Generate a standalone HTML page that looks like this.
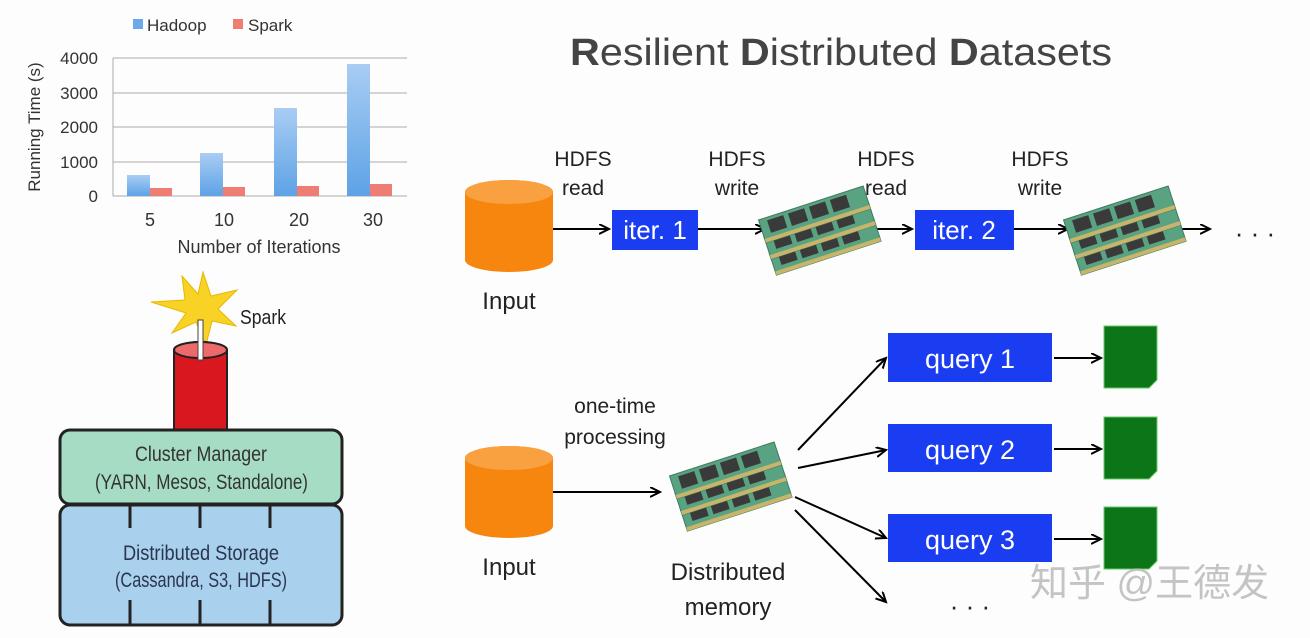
<!DOCTYPE html>
<html><head><meta charset="utf-8"><style>
html,body{margin:0;padding:0;background:#fdfdfd;}
svg{display:block;}
</style></head><body>
<svg width="1310" height="638" viewBox="0 0 1310 638" xmlns="http://www.w3.org/2000/svg" font-family="Liberation Sans, sans-serif">
<defs>
<marker id="ar" markerWidth="12" markerHeight="12" refX="10" refY="5" orient="auto" markerUnits="userSpaceOnUse"><path d="M0,0 L10,5 L0,10" fill="none" stroke="#000" stroke-width="2"/></marker>
<linearGradient id="hb" x1="0" y1="0" x2="0" y2="1"><stop offset="0" stop-color="#a9cdf3"/><stop offset="1" stop-color="#5ea2e6"/></linearGradient>
<g id="stick">
<rect x="-55" y="-12" width="110" height="24" fill="#5aa382" stroke="#3d7a5e"/>
<rect x="-47" y="-9" width="17" height="13" fill="#3a3a3a"/>
<rect x="-25" y="-9" width="17" height="13" fill="#3a3a3a"/>
<rect x="-3" y="-9" width="17" height="13" fill="#3a3a3a"/>
<rect x="19" y="-9" width="17" height="13" fill="#3a3a3a"/>
<rect x="-55" y="8" width="110" height="4" fill="#c9b56a"/>
</g>
<g id="ram">
<g transform="rotate(-18)"><use href="#stick" y="26"/><use href="#stick" y="9"/><use href="#stick" y="-8"/></g>
</g>
<g id="cyl">
<path d="M0,10 A44,12 0 0 1 88,10 L88,78 A44,12 0 0 1 0,78 Z" fill="#f7860f"/>
<ellipse cx="44" cy="10" rx="44" ry="12" fill="#f9a041"/>
</g>
<g id="doc"><path d="M0,0 H53 V54 L45,62 H0 Z" fill="#0c7518" stroke="#6c6" stroke-width="1"/></g>
</defs>

<!-- chart -->
<rect x="133" y="19" width="10" height="10" fill="#6aaae8"/>
<text x="147" y="31" font-size="17" fill="#333">Hadoop</text>
<rect x="233" y="19" width="10" height="10" fill="#ee7d73"/>
<text x="248" y="31" font-size="17" fill="#333">Spark</text>
<g stroke="#aaa" stroke-width="1">
<line x1="113" y1="58" x2="407" y2="58"/><line x1="113" y1="93" x2="407" y2="93"/>
<line x1="113" y1="127" x2="407" y2="127"/><line x1="113" y1="162" x2="407" y2="162"/>
<line x1="113" y1="196" x2="407" y2="196"/><line x1="113" y1="58" x2="113" y2="196"/>
</g>
<g font-size="17" fill="#333" text-anchor="end">
<text x="98" y="64">4000</text><text x="98" y="99">3000</text><text x="98" y="133">2000</text><text x="98" y="168">1000</text><text x="98" y="202">0</text>
</g>
<text transform="translate(40,127) rotate(-90)" font-size="17" fill="#333" text-anchor="middle">Running Time (s)</text>
<rect x="127" y="175" width="23" height="21" fill="url(#hb)"/><rect x="150" y="188" width="22" height="8" fill="#ee7d73"/>
<rect x="200" y="153" width="23" height="43" fill="url(#hb)"/><rect x="223" y="187" width="22" height="9" fill="#ee7d73"/>
<rect x="274" y="108" width="23" height="88" fill="url(#hb)"/><rect x="297" y="186" width="22" height="10" fill="#ee7d73"/>
<rect x="347" y="64" width="23" height="132" fill="url(#hb)"/><rect x="370" y="184" width="22" height="12" fill="#ee7d73"/>
<g font-size="18" fill="#333" text-anchor="middle">
<text x="150" y="226">5</text><text x="224" y="226">10</text><text x="299" y="226">20</text><text x="373" y="226">30</text>
<text x="259" y="253">Number of Iterations</text>
</g>

<!-- spark stack -->
<polygon points="203,272 211,296 237,290 218,309 236,326 212,321 206,345 196,322 172,333 186,313 151,302 185,300 182,276 198,294" fill="#f8d224" stroke="#e8b800"/>
<text x="240" y="324" font-size="20" fill="#222" textLength="46" lengthAdjust="spacingAndGlyphs">Spark</text>
<path d="M174,350 A26.5,8 0 0 1 227,350 L227,432 L174,432 Z" fill="#d8171e" stroke="#222" stroke-width="2"/>
<ellipse cx="200.5" cy="350" rx="26.5" ry="8" fill="#ee6a6a" stroke="#222" stroke-width="2"/>
<rect x="198" y="320" width="5" height="40" fill="#fff" stroke="#444"/>
<rect x="60" y="430" width="282" height="74" rx="10" fill="#a6dcc3" stroke="#222" stroke-width="3"/>
<text x="135" y="461" font-size="21" fill="#333" textLength="132" lengthAdjust="spacingAndGlyphs">Cluster Manager</text>
<text x="95" y="489" font-size="21" fill="#333" textLength="213" lengthAdjust="spacingAndGlyphs">(YARN, Mesos, Standalone)</text>
<rect x="60" y="505" width="282" height="120" rx="10" fill="#a9d0ec" stroke="#222" stroke-width="3"/>
<g stroke="#222" stroke-width="3">
<line x1="130" y1="506" x2="130" y2="528"/><line x1="200" y1="506" x2="200" y2="528"/><line x1="270" y1="506" x2="270" y2="528"/>
<line x1="130" y1="600" x2="130" y2="624"/><line x1="200" y1="600" x2="200" y2="624"/><line x1="270" y1="600" x2="270" y2="624"/>
</g>
<text x="123" y="560" font-size="21" fill="#2a3550" textLength="156" lengthAdjust="spacingAndGlyphs">Distributed Storage</text>
<text x="115" y="587" font-size="21" fill="#2a3550" textLength="172" lengthAdjust="spacingAndGlyphs">(Cassandra, S3, HDFS)</text>

<!-- title -->
<text x="570" y="65" font-size="38" fill="#444" textLength="542" lengthAdjust="spacingAndGlyphs"><tspan font-weight="bold">R</tspan>esilient <tspan font-weight="bold">D</tspan>istributed <tspan font-weight="bold">D</tspan>atasets</text>

<!-- top row -->
<use href="#cyl" x="465" y="182"/>
<text x="509" y="309" font-size="24" fill="#222" text-anchor="middle">Input</text>
<g font-size="21" fill="#222" text-anchor="middle">
<text x="583" y="166">HDFS</text><text x="583" y="195">read</text>
<text x="737" y="166">HDFS</text><text x="737" y="195">write</text>
<text x="886" y="166">HDFS</text><text x="886" y="195">read</text>
<text x="1040" y="166">HDFS</text><text x="1040" y="195">write</text>
</g>
<g stroke="#000" stroke-width="2" marker-end="url(#ar)">
<line x1="553" y1="229" x2="609" y2="229"/><line x1="698" y1="229" x2="765" y2="229"/>
<line x1="862" y1="229" x2="912" y2="229"/><line x1="1014" y1="229" x2="1068" y2="229"/>
<line x1="1170" y1="229" x2="1210" y2="229"/>
</g>
<use href="#ram" x="817" y="222"/>
<use href="#ram" x="1122" y="222"/>
<rect x="612" y="210" width="86" height="40" fill="#1b3df2"/>
<text x="655" y="239" font-size="26" fill="#fff" text-anchor="middle">iter. 1</text>
<rect x="915" y="210" width="99" height="40" fill="#1b3df2"/>
<text x="964" y="239" font-size="26" fill="#fff" text-anchor="middle">iter. 2</text>
<text x="1255" y="242" font-size="26" fill="#222" text-anchor="middle">· · ·</text>

<!-- bottom -->
<use href="#cyl" x="465" y="448"/>
<text x="509" y="575" font-size="24" fill="#222" text-anchor="middle">Input</text>
<text x="615" y="413" font-size="21" fill="#222" text-anchor="middle">one-time</text>
<text x="615" y="444" font-size="21" fill="#222" text-anchor="middle">processing</text>
<g stroke="#000" stroke-width="2" marker-end="url(#ar)">
<line x1="553" y1="492" x2="660" y2="492"/>
<line x1="798" y1="450" x2="886" y2="358"/>
<line x1="798" y1="468" x2="886" y2="450"/>
<line x1="795" y1="497" x2="886" y2="538"/>
<line x1="795" y1="510" x2="886" y2="602"/>
<line x1="1054" y1="358" x2="1101" y2="358"/>
<line x1="1054" y1="449" x2="1101" y2="449"/>
<line x1="1054" y1="539" x2="1101" y2="539"/>
</g>
<use href="#ram" x="728" y="478"/>
<text x="728" y="580" font-size="24" fill="#222" text-anchor="middle">Distributed</text>
<text x="728" y="615" font-size="24" fill="#222" text-anchor="middle">memory</text>
<rect x="888" y="333" width="164" height="49" fill="#1b3df2"/>
<text x="970" y="368" font-size="27" fill="#fff" text-anchor="middle">query 1</text>
<rect x="888" y="424" width="164" height="48" fill="#1b3df2"/>
<text x="970" y="459" font-size="27" fill="#fff" text-anchor="middle">query 2</text>
<rect x="888" y="514" width="164" height="48" fill="#1b3df2"/>
<text x="970" y="549" font-size="27" fill="#fff" text-anchor="middle">query 3</text>
<use href="#doc" x="1104" y="326"/>
<use href="#doc" x="1104" y="417"/>
<use href="#doc" x="1104" y="507"/>
<text x="970" y="615" font-size="26" fill="#222" text-anchor="middle">· · ·</text>
<text x="1030" y="596" font-size="38" fill="#c4c4c4" font-family="Liberation Sans, Noto Sans CJK SC, sans-serif">知乎 @王德发</text>
</svg>
</body></html>
